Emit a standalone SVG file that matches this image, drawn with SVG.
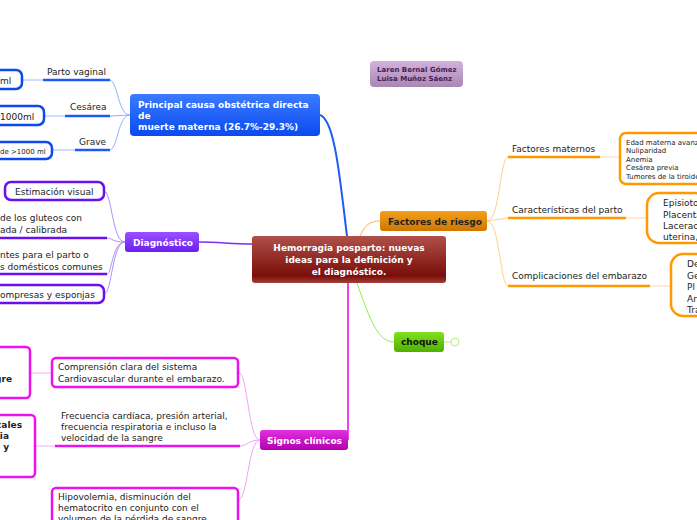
<svg xmlns="http://www.w3.org/2000/svg" width="697" height="520" viewBox="0 0 697 520">
<defs>
<linearGradient id="gc" x1="0" y1="0" x2="0" y2="1"><stop offset="0" stop-color="#b0504a"/><stop offset="0.85" stop-color="#7a0e08"/><stop offset="1" stop-color="#a3403a"/></linearGradient>
<linearGradient id="gb" x1="0" y1="0" x2="0" y2="1"><stop offset="0" stop-color="#3b7bff"/><stop offset="1" stop-color="#0a4af0"/></linearGradient>
<linearGradient id="gp" x1="0" y1="0" x2="0" y2="1"><stop offset="0" stop-color="#9a52ff"/><stop offset="1" stop-color="#6a1ef0"/></linearGradient>
<linearGradient id="go" x1="0" y1="0" x2="0" y2="1"><stop offset="0" stop-color="#f4a01a"/><stop offset="1" stop-color="#d07600"/></linearGradient>
<linearGradient id="gg" x1="0" y1="0" x2="0" y2="1"><stop offset="0" stop-color="#80e020"/><stop offset="1" stop-color="#4fb000"/></linearGradient>
<linearGradient id="gm" x1="0" y1="0" x2="0" y2="1"><stop offset="0" stop-color="#e030e0"/><stop offset="1" stop-color="#b000b0"/></linearGradient>
<linearGradient id="ga" x1="0" y1="0" x2="0" y2="1"><stop offset="0" stop-color="#d2b2dc"/><stop offset="1" stop-color="#a987b2"/></linearGradient>
</defs>
<style>
text{font-family:"DejaVu Sans",Verdana,sans-serif;font-size:9px;fill:#222}
.b{font-weight:bold}
.w{fill:#fff;font-weight:bold}
.s{font-size:7px}
.bl{fill:#fff;stroke:#0a4af0;stroke-width:2.5}
.pu{fill:#fff;stroke:#6a10f0;stroke-width:2.5}
.or{fill:#fff;stroke:#ff9900;stroke-width:2.5}
.mg{fill:#fff;stroke:#ee10ee;stroke-width:2.5}
.c{fill:none}
</style>
<g id="connectors" class="c">
<path d="M347,236 C340,180 335,120 320,115" stroke="#1c5cf5" stroke-width="2" fill="none"/>
<path d="M130,115 C118,115 118,82 110,80 M130,115 L110,116 M130,115 C118,115 118,148 110,150" stroke="#8fb0ff" fill="none"/>
<path d="M43,80 H110 M65,116 H110 M75,150 H110" stroke="#1c5cf5" stroke-width="2.5" fill="none"/>
<path d="M22,80 H43 M44,116 H65 M52,150 H75" stroke="#9fbaff" fill="none"/>
<path d="M252,244 C230,244 220,242 199,242" stroke="#7a30f0" stroke-width="1.5" fill="none"/>
<path d="M125,242 C112,242 112,192 104,191 M125,242 C112,242 112,238 107,238 M125,242 C112,242 112,274 107,274 M125,242 C112,242 112,294 104,294" stroke="#b090ff" fill="none"/>
<path d="M0,238 H107 M0,274 H107" stroke="#6a10f0" stroke-width="2.5" fill="none"/>
<path d="M360,236 C365,225 370,221 380,221" stroke="#ffb050" fill="none"/>
<path d="M487,221 C500,221 500,157 508,157 M487,221 L508,218 M487,221 C500,221 500,286 508,286" stroke="#ffd090" fill="none"/>
<path d="M508,157 H600 M508,218 H626 M508,286 H650" stroke="#ff9900" stroke-width="2.5" fill="none"/>
<path d="M600,157 H620 M626,218 H647 M650,286 H671" stroke="#ffd8a0" fill="none"/>
<path d="M357,283 C370,320 378,342 394,342" stroke="#90f040" fill="none"/>
<path d="M444,342 H451" stroke="#b0f070" fill="none"/>
<circle cx="455" cy="342" r="4" fill="#fff" stroke="#b0f070"/>
<path d="M348,283 V430 L348,440" stroke="#ee40ee" stroke-width="2" fill="none"/>
<path d="M260,440 C248,440 248,372 238,372 M260,440 C248,440 248,446 240,446 M260,440 C248,440 248,500 238,500" stroke="#f5a0f5" fill="none"/>
<path d="M55,446 H240" stroke="#ee10ee" stroke-width="2.5" fill="none"/>
<path d="M30,373 H52 M35,446 H55" stroke="#f5b0f5" fill="none"/>
</g>
<g id="central"><rect x="252" y="236" width="194" height="47" rx="3" fill="url(#gc)"/>
<text x="349" y="251" text-anchor="middle" class="w">Hemorragia posparto: nuevas</text>
<text x="349" y="263" text-anchor="middle" class="w">ideas para la definición y</text>
<text x="349" y="275" text-anchor="middle" class="w">el diagnóstico.</text></g>
<g id="autores"><rect x="370" y="61" width="93" height="26" rx="4" fill="url(#ga)"/>
<text x="377" y="72" class="b s" fill="#4a1a55" style="fill:#4a1a55">Laren Bernal Gómez</text>
<text x="377" y="81" class="b s" style="fill:#4a1a55">Luisa Muñoz Sáenz</text></g>
<g id="causa"><rect x="130" y="94" width="190" height="42" rx="4" fill="url(#gb)"/>
<text x="138" y="108" class="w">Principal causa obstétrica directa</text>
<text x="138" y="119" class="w">de</text>
<text x="138" y="130" class="w">muerte materna (26.7%-29.3%)</text></g>
<g id="parto-vaginal"><text x="47" y="75">Parto vaginal</text><rect x="-10" y="70" width="32" height="19" rx="6" class="bl"/><text x="0" y="84">ml</text></g>
<g id="cesarea"><text x="70" y="110">Cesárea</text><rect x="-10" y="106" width="54" height="19" rx="6" class="bl"/><text x="0" y="120">1000ml</text></g>
<g id="grave"><text x="79" y="145">Grave</text><rect x="-10" y="142" width="62" height="17" rx="6" class="bl"/><text x="0" y="154" class="s">de &gt;1000 ml</text></g>
<g id="diagnostico"><rect x="125" y="232" width="74" height="20" rx="3" fill="url(#gp)"/><text x="133" y="246" class="w">Diagnóstico</text></g>
<g id="d1"><rect x="5" y="182" width="99" height="18" rx="6" class="pu"/><text x="15" y="195">Estimación visual</text></g>
<g id="d2"><text x="0" y="221">de los gluteos con</text><text x="0" y="233">ada / calibrada</text></g>
<g id="d3"><text x="0" y="258">ntes para el parto o</text><text x="0" y="270">s domésticos comunes</text></g>
<g id="d4"><rect x="-10" y="285" width="114" height="18" rx="6" class="pu"/><text x="0" y="298">ompresas y esponjas</text></g>
<g id="factores"><rect x="380" y="211" width="107" height="20" rx="3" fill="url(#go)"/><text x="388" y="225" class="b">Factores de riesgo</text></g>
<g id="f1"><text x="512" y="152">Factores maternos</text><rect x="620" y="133" width="90" height="51" rx="6" class="or"/>
<text x="626" y="145" class="s">Edad materna avanzada</text><text x="626" y="153" class="s">Nuliparidad</text><text x="626" y="162" class="s">Anemia</text><text x="626" y="170" class="s">Cesárea previa</text><text x="626" y="179" class="s">Tumores de la tiroides</text></g>
<g id="f2"><text x="512" y="213">Características del parto</text><rect x="647" y="193" width="60" height="50" rx="12" class="or"/>
<text x="663" y="206">Episiotomía</text><text x="663" y="218">Placenta</text><text x="663" y="229">Laceración</text><text x="663" y="240">uterina,</text></g>
<g id="f3"><text x="512" y="279">Complicaciones del embarazo</text><rect x="671" y="254" width="40" height="62" rx="12" class="or"/>
<text x="687" y="267">De</text><text x="687" y="279">Ge</text><text x="687" y="290">Pl</text><text x="687" y="302">An</text><text x="687" y="313">Tra</text></g>
<g id="choque"><rect x="394" y="332" width="50" height="20" rx="3" fill="url(#gg)"/><text x="401" y="345" class="b" style="fill:#111">choque</text></g>
<g id="signos"><rect x="260" y="430" width="88" height="20" rx="3" fill="url(#gm)"/><text x="267" y="444" class="w">Signos clínicos</text></g>
<g id="s1"><rect x="52" y="358" width="186" height="29" rx="4" class="mg"/><text x="58" y="370">Comprensión clara del sistema</text><text x="58" y="382">Cardiovascular durante el embarazo.</text></g>
<g id="s1a"><rect x="-10" y="347" width="40" height="51" rx="4" class="mg"/><text x="12" y="382" text-anchor="end" class="b">gre</text></g>
<g id="s2"><text x="61" y="419">Frecuencia cardíaca, presión arterial,</text><text x="61" y="430">frecuencia respiratoria e incluso la</text><text x="61" y="441">velocidad de la sangre</text></g>
<g id="s2a"><rect x="-10" y="415" width="45" height="62" rx="4" class="mg"/><text x="22" y="428" text-anchor="end" class="b">cales</text><text x="9" y="439" text-anchor="end" class="b">ia</text><text x="9" y="450" text-anchor="end" class="b">e y</text></g>
<g id="s3"><rect x="52" y="488" width="186" height="45" rx="4" class="mg"/><text x="58" y="500">Hipovolemia, disminución del</text><text x="58" y="511">hematocrito en conjunto con el</text><text x="58" y="522">volumen de la pérdida de sangre</text></g>
</svg>
